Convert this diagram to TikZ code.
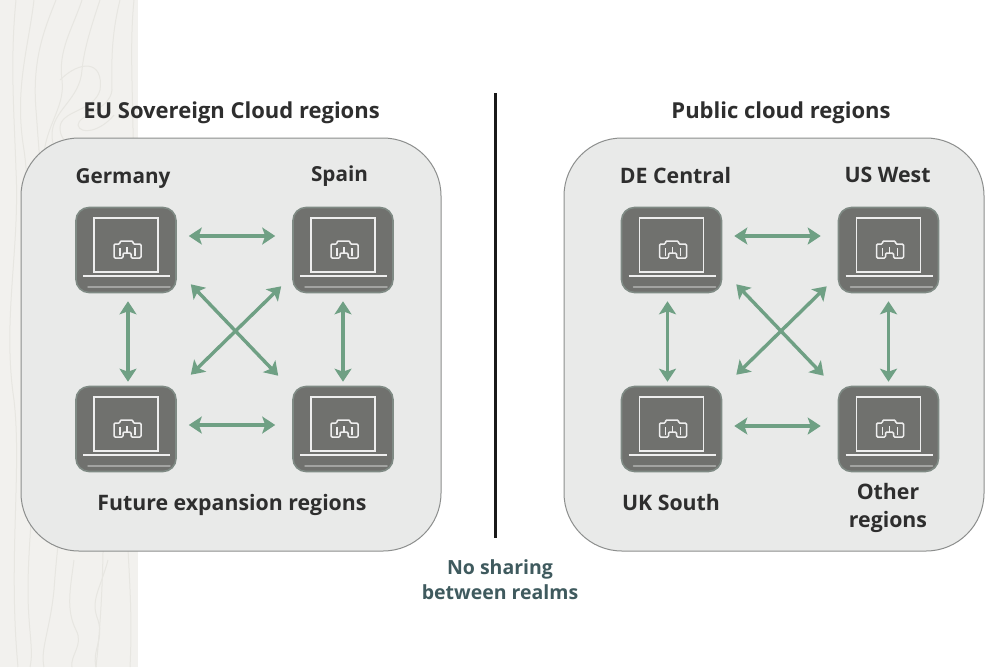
\documentclass[tikz,border=0pt]{standalone}
\usepackage{fontspec}
\setmainfont{Open Sans}
\usetikzlibrary{arrows.meta,calc}
\definecolor{texbg}{HTML}{F2F1EE}
\definecolor{texln}{HTML}{E7E6E1}
\definecolor{panelfill}{HTML}{E9EAE9}
\definecolor{panelln}{HTML}{8C8E8D}
\definecolor{devfill}{HTML}{70716E}
\definecolor{devln}{HTML}{7F8A84}
\definecolor{arrowc}{HTML}{6FA084}
\definecolor{txt}{HTML}{2E2E2E}
\definecolor{note}{HTML}{3F5A5E}
\tikzset{
  x=1pt,y=-1pt,
  panelbox/.style={draw=panelln,line width=1pt,fill=panelfill,rounded corners=58pt},
  device/.style={draw=devln,line width=1.6pt,fill=devfill,rounded corners=13pt,minimum width=100pt,minimum height=85pt,inner sep=0pt},
  devline/.style={draw=white!88!devfill,line width=1.5pt},
  devhi/.style={draw=white!35!devfill,line width=1.5pt,line cap=round},
  iconline/.style={draw=white!88!devfill,line width=1.5pt},
  link/.style={draw=arrowc,line width=3.4pt,{Stealth[length=13pt,width=17pt,inset=3pt]}-{Stealth[length=13pt,width=17pt,inset=3pt]}},
  lbl/.style={font=\fontsize{21.3}{28}\selectfont\bfseries,text=txt,align=center,inner sep=0pt},
  titlelbl/.style={font=\fontsize{22}{24}\selectfont\bfseries,text=txt,align=center,inner sep=0pt},
  namelbl/.style={font=\fontsize{20.7}{24}\selectfont\bfseries,text=txt,align=center,inner sep=0pt},
  notelbl/.style={font=\fontsize{19.5}{25}\selectfont\bfseries,text=note,align=center,inner sep=0pt},
  contour/.style={draw=texln,line width=1pt},
}
\newcommand{\devicebox}[3]{%
  \node[device] (#1) at (#2,#3) {};
  \draw[devline] ($(#1.center)+(-32,-32)$) rectangle ($(#1.center)+(32,22)$);
  \draw[devline] ($(#1.center)+(-43,26)$) -- ($(#1.center)+(44,26)$);
  \draw[devhi] ($(#1.center)+(-38,37)$) -- ($(#1.center)+(44,37)$);
  \draw[iconline,rounded corners=1.2pt]
    ($(#1.center)+(-12,-6)$) -- ($(#1.center)+(-6,-6)$) -- ($(#1.center)+(-6,-9)$) -- ($(#1.center)+(7,-9)$) -- ($(#1.center)+(7,-6)$) -- ($(#1.center)+(15,-6)$) -- ($(#1.center)+(15,8)$) -- ($(#1.center)+(5,8)$) -- ($(#1.center)+(5,3)$) -- ($(#1.center)+(-3,3)$) -- ($(#1.center)+(-3,8)$) -- ($(#1.center)+(-12,8)$) -- cycle;
  \draw[iconline]
    ($(#1.center)+(-6,-2)$) -- ($(#1.center)+(-6,6)$)
    ($(#1.center)+(1,-3)$) -- ($(#1.center)+(1,3)$)
    ($(#1.center)+(9,-2)$) -- ($(#1.center)+(9,6)$);
}
\begin{document}
\begin{tikzpicture}
\useasboundingbox (0,0) rectangle (1000,667);
\fill[white] (0,0) rectangle (1000,667);
\fill[texbg] (0,0) rectangle (138,667);
\begin{scope}
\clip (0,0) rectangle (138,667);
\draw[contour] (16,0) .. controls (10,60) and (14,110) .. (16,170) .. controls (20,250) and (2,320) .. (14,400) .. controls (22,470) and (8,560) .. (18,667);
\draw[contour] (34,0) .. controls (28,50) and (14,90) .. (24,150) .. controls (34,220) and (16,280) .. (34,340) .. controls (44,420) and (28,520) .. (28,590) .. controls (28,630) and (34,650) .. (30,667);
\draw[contour] (56,0) .. controls (44,30) and (32,60) .. (36,110) .. controls (40,160) and (42,230) .. (72,300) .. controls (84,380) and (60,500) .. (54,590) .. controls (50,630) and (40,650) .. (44,667);
\draw[contour] (82,0) .. controls (72,30) and (58,50) .. (62,80) .. controls (66,110) and (40,130) .. (44,170) .. controls (50,220) and (104,240) .. (100,300) .. controls (96,400) and (112,520) .. (96,667);
\draw[contour] (100,0) .. controls (90,30) and (84,50) .. (82,70) .. controls (80,100) and (52,110) .. (52,135) .. controls (52,170) and (100,170) .. (120,205);
\draw[contour] (60,80) .. controls (80,60) and (104,60) .. (100,90) .. controls (94,112) and (60,110) .. (60,128) .. controls (60,150) and (90,150) .. (118,160);
\draw[contour] (120,0) .. controls (110,40) and (112,70) .. (112,90) .. controls (110,110) and (78,115) .. (78,125) .. controls (80,135) and (100,132) .. (114,115);
\draw[contour] (134,0) .. controls (128,60) and (136,120) .. (132,200) .. controls (128,300) and (128,400) .. (126,450) .. controls (124,540) and (134,590) .. (130,667);
\draw[contour] (74,560) .. controls (70,590) and (66,610) .. (76,630) .. controls (84,645) and (70,655) .. (72,667);
\draw[contour] (108,560) .. controls (100,590) and (90,600) .. (98,620) .. controls (104,640) and (92,650) .. (96,667);
\end{scope}
\draw[panelbox] (21,138) rectangle (441,551);
\draw[panelbox] (564,138) rectangle (984,551);
\draw[line width=3pt,black!90] (495,93) -- (495,538);

\node[titlelbl] (t1) at (231.5,112.5) {EU Sovereign Cloud regions};
\node[titlelbl] (t2) at (781,112.5) {Public cloud regions};
\node[namelbl] (l1) at (123,178) {Germany};
\node[namelbl] (l2) at (339.5,176.5) {Spain};
\node[lbl] (l3) at (232,504.5) {Future expansion regions};
\node[lbl] (l4) at (675.5,176) {DE Central};
\node[lbl] (l5) at (887.5,175) {US West};
\node[lbl] (l6) at (671,503) {UK South};
\node[lbl] (l7) at (888,508) {Other\\regions};
\node[notelbl] (n1) at (500,579.5) {No sharing\\between realms};

\devicebox{a}{126}{250}
\devicebox{b}{343}{250}
\devicebox{c}{126}{429}
\devicebox{d}{343}{429}
\devicebox{e}{671.5}{250}
\devicebox{f}{888.5}{250}
\devicebox{g}{671.5}{429}
\devicebox{h}{888.5}{429}

\draw[link] ($(a.east)+(12,-14)$) -- ($(b.west)+(-17,-14)$);
\draw[link] ($(c.east)+(12,-4)$) -- ($(d.west)+(-17,-4)$);
\draw[link] ($(a.south)+(2,8)$) -- ($(c.north)+(2,-4)$);
\draw[link] ($(b.south)+(0,8)$) -- ($(d.north)+(0,-4)$);
\draw[link] ($(a.south east)+(14,-9)$) -- ($(d.north west)+(-14,-10)$);
\draw[link] ($(b.south west)+(-11,-7)$) -- ($(c.north east)+(14,-11)$);
\draw[link] ($(e.east)+(12,-14)$) -- ($(f.west)+(-17,-14)$);
\draw[link] ($(g.east)+(12,-3)$) -- ($(h.west)+(-17,-3)$);
\draw[link] ($(e.south)+(-4,8)$) -- ($(g.north)+(-4,-4)$);
\draw[link] ($(f.south)+(0,8)$) -- ($(h.north)+(0,-4)$);
\draw[link] ($(e.south east)+(14,-9)$) -- ($(h.north west)+(-14,-10)$);
\draw[link] ($(f.south west)+(-11,-7)$) -- ($(g.north east)+(14,-11)$);
\end{tikzpicture}
\end{document}
